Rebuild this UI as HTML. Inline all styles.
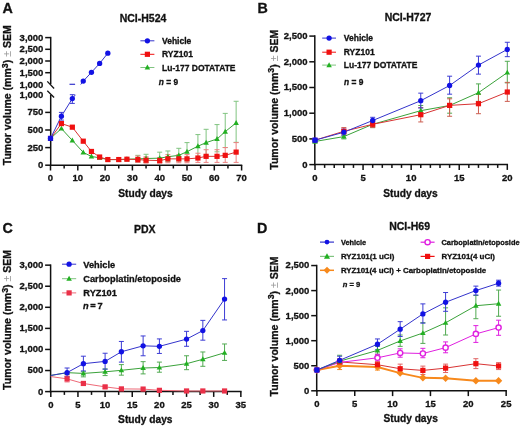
<!DOCTYPE html>
<html><head><meta charset="utf-8"><title>Tumor volume</title>
<style>html,body{margin:0;padding:0;background:#fff;width:520px;height:427px;overflow:hidden}</style>
</head><body>
<svg width="520" height="427" viewBox="0 0 520 427" style="display:block;will-change:transform;font-family:'Liberation Sans',sans-serif">
<style>text{stroke:#111;stroke-width:0.3px;paint-order:stroke}</style>
<rect width="520" height="427" fill="#fff"/>
<text x="2.4" y="13.2" font-size="14.3" text-anchor="start" font-weight="bold" fill="#111" >A</text>
<text x="143" y="21.5" font-size="10.5" text-anchor="middle" font-weight="bold" fill="#111" >NCI-H524</text>
<text transform="translate(11.2,95.2) rotate(-90)" font-size="10.55" text-anchor="middle" font-weight="bold" fill="#111">Tumor volume (mm<tspan font-size="8.9" dy="-3.3">3</tspan><tspan dy="3.3">)</tspan> <tspan font-weight="normal" fill="#999" stroke="none">±</tspan> SEM</text>
<line x1="50.7" y1="94.8" x2="50.7" y2="165.95" stroke="#111" stroke-width="1.5"/>
<line x1="50.7" y1="36.85" x2="50.7" y2="84.2" stroke="#111" stroke-width="1.5"/>
<line x1="47.3" y1="81.4" x2="54.1" y2="88.5" stroke="#111" stroke-width="1.3"/>
<line x1="47.3" y1="90.8" x2="54.1" y2="97.5" stroke="#111" stroke-width="1.3"/>
<line x1="49.95" y1="165.2" x2="242.25" y2="165.2" stroke="#111" stroke-width="1.5"/>
<line x1="45.2" y1="165.2" x2="50.7" y2="165.2" stroke="#111" stroke-width="1.5"/>
<text x="43.4" y="168.1" font-size="9.5" text-anchor="end" font-weight="bold" fill="#111" >0</text>
<line x1="45.2" y1="147.6" x2="50.7" y2="147.6" stroke="#111" stroke-width="1.5"/>
<text x="43.4" y="150.5" font-size="9.5" text-anchor="end" font-weight="bold" fill="#111" >250</text>
<line x1="45.2" y1="130" x2="50.7" y2="130" stroke="#111" stroke-width="1.5"/>
<text x="43.4" y="132.9" font-size="9.5" text-anchor="end" font-weight="bold" fill="#111" >500</text>
<line x1="45.2" y1="112.4" x2="50.7" y2="112.4" stroke="#111" stroke-width="1.5"/>
<text x="43.4" y="115.3" font-size="9.5" text-anchor="end" font-weight="bold" fill="#111" >750</text>
<line x1="45.2" y1="72.7" x2="50.7" y2="72.7" stroke="#111" stroke-width="1.5"/>
<text x="43.4" y="75.6" font-size="9.5" text-anchor="end" font-weight="bold" fill="#111" >1,500</text>
<line x1="45.2" y1="61" x2="50.7" y2="61" stroke="#111" stroke-width="1.5"/>
<text x="43.4" y="63.9" font-size="9.5" text-anchor="end" font-weight="bold" fill="#111" >2,000</text>
<line x1="45.2" y1="49.3" x2="50.7" y2="49.3" stroke="#111" stroke-width="1.5"/>
<text x="43.4" y="52.2" font-size="9.5" text-anchor="end" font-weight="bold" fill="#111" >2,500</text>
<line x1="45.2" y1="37.6" x2="50.7" y2="37.6" stroke="#111" stroke-width="1.5"/>
<text x="43.4" y="40.5" font-size="9.5" text-anchor="end" font-weight="bold" fill="#111" >3,000</text>
<text x="43.4" y="97.5" font-size="9.5" text-anchor="end" font-weight="bold" fill="#111" >1,000</text>
<text x="43.4" y="87.7" font-size="9.5" text-anchor="end" font-weight="bold" fill="#111" >1,000</text>
<line x1="50.5" y1="165.2" x2="50.5" y2="170.5" stroke="#111" stroke-width="1.5"/>
<text x="50.5" y="181.2" font-size="9.5" text-anchor="middle" font-weight="bold" fill="#111" >0</text>
<line x1="77.8" y1="165.2" x2="77.8" y2="170.5" stroke="#111" stroke-width="1.5"/>
<text x="77.8" y="181.2" font-size="9.5" text-anchor="middle" font-weight="bold" fill="#111" >10</text>
<line x1="105.1" y1="165.2" x2="105.1" y2="170.5" stroke="#111" stroke-width="1.5"/>
<text x="105.1" y="181.2" font-size="9.5" text-anchor="middle" font-weight="bold" fill="#111" >20</text>
<line x1="132.4" y1="165.2" x2="132.4" y2="170.5" stroke="#111" stroke-width="1.5"/>
<text x="132.4" y="181.2" font-size="9.5" text-anchor="middle" font-weight="bold" fill="#111" >30</text>
<line x1="159.7" y1="165.2" x2="159.7" y2="170.5" stroke="#111" stroke-width="1.5"/>
<text x="159.7" y="181.2" font-size="9.5" text-anchor="middle" font-weight="bold" fill="#111" >40</text>
<line x1="187" y1="165.2" x2="187" y2="170.5" stroke="#111" stroke-width="1.5"/>
<text x="187" y="181.2" font-size="9.5" text-anchor="middle" font-weight="bold" fill="#111" >50</text>
<line x1="214.3" y1="165.2" x2="214.3" y2="170.5" stroke="#111" stroke-width="1.5"/>
<text x="214.3" y="181.2" font-size="9.5" text-anchor="middle" font-weight="bold" fill="#111" >60</text>
<line x1="241.6" y1="165.2" x2="241.6" y2="170.5" stroke="#111" stroke-width="1.5"/>
<text x="241.6" y="181.2" font-size="9.5" text-anchor="middle" font-weight="bold" fill="#111" >70</text>
<line x1="64.15" y1="165.2" x2="64.15" y2="168.5" stroke="#111" stroke-width="1.5"/>
<line x1="91.45" y1="165.2" x2="91.45" y2="168.5" stroke="#111" stroke-width="1.5"/>
<line x1="118.75" y1="165.2" x2="118.75" y2="168.5" stroke="#111" stroke-width="1.5"/>
<line x1="146.05" y1="165.2" x2="146.05" y2="168.5" stroke="#111" stroke-width="1.5"/>
<line x1="173.35" y1="165.2" x2="173.35" y2="168.5" stroke="#111" stroke-width="1.5"/>
<line x1="200.65" y1="165.2" x2="200.65" y2="168.5" stroke="#111" stroke-width="1.5"/>
<line x1="227.95" y1="165.2" x2="227.95" y2="168.5" stroke="#111" stroke-width="1.5"/>
<text x="145.5" y="196.7" font-size="10.2" text-anchor="middle" font-weight="bold" fill="#111" >Study days</text>
<line x1="137.86" y1="155.34" x2="137.86" y2="162.38" stroke="#80c480" stroke-width="1"/>
<line x1="135.36" y1="155.34" x2="140.36" y2="155.34" stroke="#80c480" stroke-width="1"/>
<line x1="135.36" y1="162.38" x2="140.36" y2="162.38" stroke="#80c480" stroke-width="1"/>
<line x1="146.05" y1="154.29" x2="146.05" y2="162.38" stroke="#80c480" stroke-width="1"/>
<line x1="143.55" y1="154.29" x2="148.55" y2="154.29" stroke="#80c480" stroke-width="1"/>
<line x1="143.55" y1="162.38" x2="148.55" y2="162.38" stroke="#80c480" stroke-width="1"/>
<line x1="159.7" y1="152.18" x2="159.7" y2="162.38" stroke="#80c480" stroke-width="1"/>
<line x1="157.2" y1="152.18" x2="162.2" y2="152.18" stroke="#80c480" stroke-width="1"/>
<line x1="157.2" y1="162.38" x2="162.2" y2="162.38" stroke="#80c480" stroke-width="1"/>
<line x1="167.89" y1="150.98" x2="167.89" y2="161.68" stroke="#80c480" stroke-width="1"/>
<line x1="165.39" y1="150.98" x2="170.39" y2="150.98" stroke="#80c480" stroke-width="1"/>
<line x1="165.39" y1="161.68" x2="170.39" y2="161.68" stroke="#80c480" stroke-width="1"/>
<line x1="178.81" y1="148.3" x2="178.81" y2="160.98" stroke="#80c480" stroke-width="1"/>
<line x1="176.31" y1="148.3" x2="181.31" y2="148.3" stroke="#80c480" stroke-width="1"/>
<line x1="176.31" y1="160.98" x2="181.31" y2="160.98" stroke="#80c480" stroke-width="1"/>
<line x1="187" y1="142.6" x2="187" y2="160.98" stroke="#80c480" stroke-width="1"/>
<line x1="184.5" y1="142.6" x2="189.5" y2="142.6" stroke="#80c480" stroke-width="1"/>
<line x1="184.5" y1="160.98" x2="189.5" y2="160.98" stroke="#80c480" stroke-width="1"/>
<line x1="197.92" y1="134.58" x2="197.92" y2="158.16" stroke="#80c480" stroke-width="1"/>
<line x1="195.42" y1="134.58" x2="200.42" y2="134.58" stroke="#80c480" stroke-width="1"/>
<line x1="195.42" y1="158.16" x2="200.42" y2="158.16" stroke="#80c480" stroke-width="1"/>
<line x1="206.11" y1="129.3" x2="206.11" y2="155.34" stroke="#80c480" stroke-width="1"/>
<line x1="203.61" y1="129.3" x2="208.61" y2="129.3" stroke="#80c480" stroke-width="1"/>
<line x1="203.61" y1="155.34" x2="208.61" y2="155.34" stroke="#80c480" stroke-width="1"/>
<line x1="217.03" y1="124.58" x2="217.03" y2="151.82" stroke="#80c480" stroke-width="1"/>
<line x1="214.53" y1="124.58" x2="219.53" y2="124.58" stroke="#80c480" stroke-width="1"/>
<line x1="214.53" y1="151.82" x2="219.53" y2="151.82" stroke="#80c480" stroke-width="1"/>
<line x1="225.22" y1="113.39" x2="225.22" y2="147.6" stroke="#80c480" stroke-width="1"/>
<line x1="222.72" y1="113.39" x2="227.72" y2="113.39" stroke="#80c480" stroke-width="1"/>
<line x1="222.72" y1="147.6" x2="227.72" y2="147.6" stroke="#80c480" stroke-width="1"/>
<line x1="236.14" y1="101.28" x2="236.14" y2="142.32" stroke="#80c480" stroke-width="1"/>
<line x1="233.64" y1="101.28" x2="238.64" y2="101.28" stroke="#80c480" stroke-width="1"/>
<line x1="233.64" y1="142.32" x2="238.64" y2="142.32" stroke="#80c480" stroke-width="1"/>
<line x1="137.86" y1="156.05" x2="137.86" y2="162.38" stroke="#ec8080" stroke-width="1"/>
<line x1="135.36" y1="156.05" x2="140.36" y2="156.05" stroke="#ec8080" stroke-width="1"/>
<line x1="135.36" y1="162.38" x2="140.36" y2="162.38" stroke="#ec8080" stroke-width="1"/>
<line x1="146.05" y1="156.75" x2="146.05" y2="163.09" stroke="#ec8080" stroke-width="1"/>
<line x1="143.55" y1="156.75" x2="148.55" y2="156.75" stroke="#ec8080" stroke-width="1"/>
<line x1="143.55" y1="163.09" x2="148.55" y2="163.09" stroke="#ec8080" stroke-width="1"/>
<line x1="159.7" y1="157.46" x2="159.7" y2="163.09" stroke="#ec8080" stroke-width="1"/>
<line x1="157.2" y1="157.46" x2="162.2" y2="157.46" stroke="#ec8080" stroke-width="1"/>
<line x1="157.2" y1="163.09" x2="162.2" y2="163.09" stroke="#ec8080" stroke-width="1"/>
<line x1="167.89" y1="154.64" x2="167.89" y2="162.74" stroke="#ec8080" stroke-width="1"/>
<line x1="165.39" y1="154.64" x2="170.39" y2="154.64" stroke="#ec8080" stroke-width="1"/>
<line x1="165.39" y1="162.74" x2="170.39" y2="162.74" stroke="#ec8080" stroke-width="1"/>
<line x1="178.81" y1="154.64" x2="178.81" y2="162.74" stroke="#ec8080" stroke-width="1"/>
<line x1="176.31" y1="154.64" x2="181.31" y2="154.64" stroke="#ec8080" stroke-width="1"/>
<line x1="176.31" y1="162.74" x2="181.31" y2="162.74" stroke="#ec8080" stroke-width="1"/>
<line x1="187" y1="154.64" x2="187" y2="162.74" stroke="#ec8080" stroke-width="1"/>
<line x1="184.5" y1="154.64" x2="189.5" y2="154.64" stroke="#ec8080" stroke-width="1"/>
<line x1="184.5" y1="162.74" x2="189.5" y2="162.74" stroke="#ec8080" stroke-width="1"/>
<line x1="197.92" y1="153.23" x2="197.92" y2="162.38" stroke="#ec8080" stroke-width="1"/>
<line x1="195.42" y1="153.23" x2="200.42" y2="153.23" stroke="#ec8080" stroke-width="1"/>
<line x1="195.42" y1="162.38" x2="200.42" y2="162.38" stroke="#ec8080" stroke-width="1"/>
<line x1="206.11" y1="149.71" x2="206.11" y2="162.38" stroke="#ec8080" stroke-width="1"/>
<line x1="203.61" y1="149.71" x2="208.61" y2="149.71" stroke="#ec8080" stroke-width="1"/>
<line x1="203.61" y1="162.38" x2="208.61" y2="162.38" stroke="#ec8080" stroke-width="1"/>
<line x1="217.03" y1="149.71" x2="217.03" y2="162.38" stroke="#ec8080" stroke-width="1"/>
<line x1="214.53" y1="149.71" x2="219.53" y2="149.71" stroke="#ec8080" stroke-width="1"/>
<line x1="214.53" y1="162.38" x2="219.53" y2="162.38" stroke="#ec8080" stroke-width="1"/>
<line x1="225.22" y1="147.53" x2="225.22" y2="162.38" stroke="#ec8080" stroke-width="1"/>
<line x1="222.72" y1="147.53" x2="227.72" y2="147.53" stroke="#ec8080" stroke-width="1"/>
<line x1="222.72" y1="162.38" x2="227.72" y2="162.38" stroke="#ec8080" stroke-width="1"/>
<line x1="236.14" y1="142.6" x2="236.14" y2="162.38" stroke="#ec8080" stroke-width="1"/>
<line x1="233.64" y1="142.6" x2="238.64" y2="142.6" stroke="#ec8080" stroke-width="1"/>
<line x1="233.64" y1="162.38" x2="238.64" y2="162.38" stroke="#ec8080" stroke-width="1"/>
<polyline points="50.5,138.38 61.42,128.59 72.34,140.42 83.26,152.39 91.45,156.47 99.64,157.81 107.83,159.57 118.75,159.57 126.94,159.22 137.86,158.86 146.05,158.51 159.7,158.16 167.89,156.75 178.81,155.34 187,151.68 197.92,146.19 206.11,142.6 217.03,139.01 225.22,131.62 236.14,122.89" fill="none" stroke="#3aa23a" stroke-width="1"/>
<polyline points="50.5,138.38 61.42,123.59 72.34,127.18 83.26,141.19 91.45,151.47 99.64,157.03 107.83,159.57 118.75,159.57 126.94,159.22 137.86,159.57 146.05,160.2 159.7,160.62 167.89,158.86 178.81,158.86 187,158.86 197.92,158.02 206.11,156.33 217.03,156.33 225.22,155.34 236.14,152.11" fill="none" stroke="#d83434" stroke-width="1"/>
<polyline points="50.5,138.38 61.42,116.2 72.34,98.6 75.4,94.8" fill="none" stroke="#3434cc" stroke-width="1"/>
<polyline points="80.7,84.5 83.26,81.12 91.45,72.35 99.64,63.46 107.83,53.16" fill="none" stroke="#3434cc" stroke-width="1"/>
<line x1="69.5" y1="84.3" x2="75.1" y2="84.3" stroke="#3434cc" stroke-width="1.2"/>
<line x1="61.42" y1="112.4" x2="61.42" y2="120.1" stroke="#3c3cd4" stroke-width="1"/>
<line x1="58.92" y1="112.4" x2="63.92" y2="112.4" stroke="#3c3cd4" stroke-width="1"/>
<line x1="58.92" y1="120.1" x2="63.92" y2="120.1" stroke="#3c3cd4" stroke-width="1"/>
<line x1="72.34" y1="94.7" x2="72.34" y2="103.4" stroke="#3c3cd4" stroke-width="1"/>
<line x1="69.84" y1="94.7" x2="74.84" y2="94.7" stroke="#3c3cd4" stroke-width="1"/>
<line x1="69.84" y1="103.4" x2="74.84" y2="103.4" stroke="#3c3cd4" stroke-width="1"/>
<polygon points="50.5,135.48 53.26,140.41 47.74,140.41" fill="#22b022"/>
<polygon points="61.42,125.69 64.17,130.62 58.66,130.62" fill="#22b022"/>
<polygon points="72.34,137.52 75.09,142.45 69.59,142.45" fill="#22b022"/>
<polygon points="83.26,149.49 86.01,154.42 80.5,154.42" fill="#22b022"/>
<polygon points="91.45,153.57 94.2,158.5 88.7,158.5" fill="#22b022"/>
<polygon points="99.64,154.91 102.39,159.84 96.89,159.84" fill="#22b022"/>
<polygon points="107.83,156.67 110.58,161.6 105.08,161.6" fill="#22b022"/>
<polygon points="118.75,156.67 121.5,161.6 116,161.6" fill="#22b022"/>
<polygon points="126.94,156.32 129.69,161.25 124.19,161.25" fill="#22b022"/>
<polygon points="137.86,155.96 140.62,160.89 135.11,160.89" fill="#22b022"/>
<polygon points="146.05,155.61 148.81,160.54 143.3,160.54" fill="#22b022"/>
<polygon points="159.7,155.26 162.45,160.19 156.94,160.19" fill="#22b022"/>
<polygon points="167.89,153.85 170.64,158.78 165.13,158.78" fill="#22b022"/>
<polygon points="178.81,152.44 181.56,157.37 176.06,157.37" fill="#22b022"/>
<polygon points="187,148.78 189.75,153.71 184.25,153.71" fill="#22b022"/>
<polygon points="197.92,143.29 200.67,148.22 195.16,148.22" fill="#22b022"/>
<polygon points="206.11,139.7 208.86,144.63 203.35,144.63" fill="#22b022"/>
<polygon points="217.03,136.11 219.78,141.04 214.28,141.04" fill="#22b022"/>
<polygon points="225.22,128.72 227.97,133.65 222.47,133.65" fill="#22b022"/>
<polygon points="236.14,119.99 238.89,124.92 233.38,124.92" fill="#22b022"/>
<rect x="47.9" y="135.78" width="5.2" height="5.2" fill="#3a18c8"/>
<rect x="58.82" y="120.99" width="5.2" height="5.2" fill="#f01010"/>
<rect x="69.74" y="124.58" width="5.2" height="5.2" fill="#f01010"/>
<rect x="80.66" y="138.59" width="5.2" height="5.2" fill="#f01010"/>
<rect x="88.85" y="148.87" width="5.2" height="5.2" fill="#f01010"/>
<rect x="97.04" y="154.43" width="5.2" height="5.2" fill="#f01010"/>
<rect x="105.23" y="156.97" width="5.2" height="5.2" fill="#f01010"/>
<rect x="116.15" y="156.97" width="5.2" height="5.2" fill="#f01010"/>
<rect x="124.34" y="156.62" width="5.2" height="5.2" fill="#f01010"/>
<rect x="135.26" y="156.97" width="5.2" height="5.2" fill="#f01010"/>
<rect x="143.45" y="157.6" width="5.2" height="5.2" fill="#f01010"/>
<rect x="157.1" y="158.02" width="5.2" height="5.2" fill="#f01010"/>
<rect x="165.29" y="156.26" width="5.2" height="5.2" fill="#f01010"/>
<rect x="176.21" y="156.26" width="5.2" height="5.2" fill="#f01010"/>
<rect x="184.4" y="156.26" width="5.2" height="5.2" fill="#f01010"/>
<rect x="195.32" y="155.42" width="5.2" height="5.2" fill="#f01010"/>
<rect x="203.51" y="153.73" width="5.2" height="5.2" fill="#f01010"/>
<rect x="214.43" y="153.73" width="5.2" height="5.2" fill="#f01010"/>
<rect x="222.62" y="152.74" width="5.2" height="5.2" fill="#f01010"/>
<rect x="233.54" y="149.51" width="5.2" height="5.2" fill="#f01010"/>
<circle cx="50.5" cy="138.38" r="2.65" fill="#1212e4"/>
<circle cx="61.42" cy="116.2" r="2.65" fill="#1212e4"/>
<circle cx="72.34" cy="98.6" r="2.65" fill="#1212e4"/>
<circle cx="83.26" cy="81.12" r="2.65" fill="#1212e4"/>
<circle cx="91.45" cy="72.35" r="2.65" fill="#1212e4"/>
<circle cx="99.64" cy="63.46" r="2.65" fill="#1212e4"/>
<circle cx="107.83" cy="53.16" r="2.65" fill="#1212e4"/>
<line x1="140.4" y1="40.8" x2="154.4" y2="40.8" stroke="#3434cc" stroke-width="1"/>
<circle cx="147.4" cy="40.8" r="2.65" fill="#1212e4"/>
<text x="162" y="43.8" font-size="8.5" text-anchor="start" font-weight="bold" fill="#111" >Vehicle</text>
<line x1="140.4" y1="54.3" x2="154.4" y2="54.3" stroke="#f01010" stroke-width="1"/>
<rect x="144.8" y="51.7" width="5.2" height="5.2" fill="#f01010"/>
<text x="162" y="57.3" font-size="8.5" text-anchor="start" font-weight="bold" fill="#111" >RYZ101</text>
<line x1="140.4" y1="67.5" x2="154.4" y2="67.5" stroke="#80c480" stroke-width="1"/>
<polygon points="147.4,64.6 150.16,69.53 144.65,69.53" fill="#22b022"/>
<text x="162" y="70.5" font-size="8.5" text-anchor="start" font-weight="bold" fill="#111" >Lu-177 DOTATATE</text>
<text x="158.8" y="84.5" font-size="8.4" font-weight="bold" fill="#111"><tspan font-style="italic">n</tspan> = 9</text>
<text x="257.6" y="12.6" font-size="14.3" text-anchor="start" font-weight="bold" fill="#111" >B</text>
<text x="408" y="21.3" font-size="10.5" text-anchor="middle" font-weight="bold" fill="#111" >NCI-H727</text>
<text transform="translate(277.6,99.7) rotate(-90)" font-size="10.55" text-anchor="middle" font-weight="bold" fill="#111">Tumor volume (mm<tspan font-size="8.9" dy="-3.3">3</tspan><tspan dy="3.3">)</tspan> <tspan font-weight="normal" fill="#999" stroke="none">±</tspan> SEM</text>
<line x1="314.8" y1="35.25" x2="314.8" y2="165.35" stroke="#111" stroke-width="1.5"/>
<line x1="314.05" y1="164.6" x2="508.05" y2="164.6" stroke="#111" stroke-width="1.5"/>
<line x1="309.3" y1="164.6" x2="314.8" y2="164.6" stroke="#111" stroke-width="1.5"/>
<text x="307.5" y="167.5" font-size="9.5" text-anchor="end" font-weight="bold" fill="#111" >0</text>
<line x1="309.3" y1="138.9" x2="314.8" y2="138.9" stroke="#111" stroke-width="1.5"/>
<text x="307.5" y="141.8" font-size="9.5" text-anchor="end" font-weight="bold" fill="#111" >500</text>
<line x1="309.3" y1="113.2" x2="314.8" y2="113.2" stroke="#111" stroke-width="1.5"/>
<text x="307.5" y="116.1" font-size="9.5" text-anchor="end" font-weight="bold" fill="#111" >1,000</text>
<line x1="309.3" y1="87.5" x2="314.8" y2="87.5" stroke="#111" stroke-width="1.5"/>
<text x="307.5" y="90.4" font-size="9.5" text-anchor="end" font-weight="bold" fill="#111" >1,500</text>
<line x1="309.3" y1="61.8" x2="314.8" y2="61.8" stroke="#111" stroke-width="1.5"/>
<text x="307.5" y="64.7" font-size="9.5" text-anchor="end" font-weight="bold" fill="#111" >2,000</text>
<line x1="309.3" y1="36.1" x2="314.8" y2="36.1" stroke="#111" stroke-width="1.5"/>
<text x="307.5" y="39" font-size="9.5" text-anchor="end" font-weight="bold" fill="#111" >2,500</text>
<line x1="315" y1="164.6" x2="315" y2="169.9" stroke="#111" stroke-width="1.5"/>
<text x="315" y="180.6" font-size="9.5" text-anchor="middle" font-weight="bold" fill="#111" >0</text>
<line x1="363.07" y1="164.6" x2="363.07" y2="169.9" stroke="#111" stroke-width="1.5"/>
<text x="363.07" y="180.6" font-size="9.5" text-anchor="middle" font-weight="bold" fill="#111" >5</text>
<line x1="411.15" y1="164.6" x2="411.15" y2="169.9" stroke="#111" stroke-width="1.5"/>
<text x="411.15" y="180.6" font-size="9.5" text-anchor="middle" font-weight="bold" fill="#111" >10</text>
<line x1="459.23" y1="164.6" x2="459.23" y2="169.9" stroke="#111" stroke-width="1.5"/>
<text x="459.23" y="180.6" font-size="9.5" text-anchor="middle" font-weight="bold" fill="#111" >15</text>
<line x1="507.3" y1="164.6" x2="507.3" y2="169.9" stroke="#111" stroke-width="1.5"/>
<text x="507.3" y="180.6" font-size="9.5" text-anchor="middle" font-weight="bold" fill="#111" >20</text>
<line x1="324.62" y1="164.6" x2="324.62" y2="167.9" stroke="#111" stroke-width="1.5"/>
<line x1="334.23" y1="164.6" x2="334.23" y2="167.9" stroke="#111" stroke-width="1.5"/>
<line x1="343.85" y1="164.6" x2="343.85" y2="167.9" stroke="#111" stroke-width="1.5"/>
<line x1="353.46" y1="164.6" x2="353.46" y2="167.9" stroke="#111" stroke-width="1.5"/>
<line x1="372.69" y1="164.6" x2="372.69" y2="167.9" stroke="#111" stroke-width="1.5"/>
<line x1="382.31" y1="164.6" x2="382.31" y2="167.9" stroke="#111" stroke-width="1.5"/>
<line x1="391.92" y1="164.6" x2="391.92" y2="167.9" stroke="#111" stroke-width="1.5"/>
<line x1="401.53" y1="164.6" x2="401.53" y2="167.9" stroke="#111" stroke-width="1.5"/>
<line x1="420.76" y1="164.6" x2="420.76" y2="167.9" stroke="#111" stroke-width="1.5"/>
<line x1="430.38" y1="164.6" x2="430.38" y2="167.9" stroke="#111" stroke-width="1.5"/>
<line x1="440" y1="164.6" x2="440" y2="167.9" stroke="#111" stroke-width="1.5"/>
<line x1="449.61" y1="164.6" x2="449.61" y2="167.9" stroke="#111" stroke-width="1.5"/>
<line x1="468.84" y1="164.6" x2="468.84" y2="167.9" stroke="#111" stroke-width="1.5"/>
<line x1="478.46" y1="164.6" x2="478.46" y2="167.9" stroke="#111" stroke-width="1.5"/>
<line x1="488.07" y1="164.6" x2="488.07" y2="167.9" stroke="#111" stroke-width="1.5"/>
<line x1="497.69" y1="164.6" x2="497.69" y2="167.9" stroke="#111" stroke-width="1.5"/>
<text x="410.5" y="196.7" font-size="10.2" text-anchor="middle" font-weight="bold" fill="#111" >Study days</text>
<line x1="315" y1="139.41" x2="315" y2="143.01" stroke="#52aa52" stroke-width="1"/>
<line x1="312.5" y1="139.41" x2="317.5" y2="139.41" stroke="#52aa52" stroke-width="1"/>
<line x1="312.5" y1="143.01" x2="317.5" y2="143.01" stroke="#52aa52" stroke-width="1"/>
<line x1="343.85" y1="133.76" x2="343.85" y2="138.9" stroke="#52aa52" stroke-width="1"/>
<line x1="341.35" y1="133.76" x2="346.35" y2="133.76" stroke="#52aa52" stroke-width="1"/>
<line x1="341.35" y1="138.9" x2="346.35" y2="138.9" stroke="#52aa52" stroke-width="1"/>
<line x1="372.69" y1="120.91" x2="372.69" y2="127.59" stroke="#52aa52" stroke-width="1"/>
<line x1="370.19" y1="120.91" x2="375.19" y2="120.91" stroke="#52aa52" stroke-width="1"/>
<line x1="370.19" y1="127.59" x2="375.19" y2="127.59" stroke="#52aa52" stroke-width="1"/>
<line x1="420.76" y1="105.49" x2="420.76" y2="115.77" stroke="#52aa52" stroke-width="1"/>
<line x1="418.26" y1="105.49" x2="423.26" y2="105.49" stroke="#52aa52" stroke-width="1"/>
<line x1="418.26" y1="115.77" x2="423.26" y2="115.77" stroke="#52aa52" stroke-width="1"/>
<line x1="449.61" y1="97.78" x2="449.61" y2="113.2" stroke="#52aa52" stroke-width="1"/>
<line x1="447.11" y1="97.78" x2="452.11" y2="97.78" stroke="#52aa52" stroke-width="1"/>
<line x1="447.11" y1="113.2" x2="452.11" y2="113.2" stroke="#52aa52" stroke-width="1"/>
<line x1="478.46" y1="83.9" x2="478.46" y2="101.38" stroke="#52aa52" stroke-width="1"/>
<line x1="475.96" y1="83.9" x2="480.96" y2="83.9" stroke="#52aa52" stroke-width="1"/>
<line x1="475.96" y1="101.38" x2="480.96" y2="101.38" stroke="#52aa52" stroke-width="1"/>
<line x1="507.3" y1="61.29" x2="507.3" y2="82.87" stroke="#52aa52" stroke-width="1"/>
<line x1="504.8" y1="61.29" x2="509.8" y2="61.29" stroke="#52aa52" stroke-width="1"/>
<line x1="504.8" y1="82.87" x2="509.8" y2="82.87" stroke="#52aa52" stroke-width="1"/>
<line x1="315" y1="138.39" x2="315" y2="141.98" stroke="#cc5e50" stroke-width="1"/>
<line x1="312.5" y1="138.39" x2="317.5" y2="138.39" stroke="#cc5e50" stroke-width="1"/>
<line x1="312.5" y1="141.98" x2="317.5" y2="141.98" stroke="#cc5e50" stroke-width="1"/>
<line x1="343.85" y1="127.59" x2="343.85" y2="134.79" stroke="#cc5e50" stroke-width="1"/>
<line x1="341.35" y1="127.59" x2="346.35" y2="127.59" stroke="#cc5e50" stroke-width="1"/>
<line x1="341.35" y1="134.79" x2="346.35" y2="134.79" stroke="#cc5e50" stroke-width="1"/>
<line x1="372.69" y1="120.91" x2="372.69" y2="127.59" stroke="#cc5e50" stroke-width="1"/>
<line x1="370.19" y1="120.91" x2="375.19" y2="120.91" stroke="#cc5e50" stroke-width="1"/>
<line x1="370.19" y1="127.59" x2="375.19" y2="127.59" stroke="#cc5e50" stroke-width="1"/>
<line x1="420.76" y1="107.55" x2="420.76" y2="121.94" stroke="#cc5e50" stroke-width="1"/>
<line x1="418.26" y1="107.55" x2="423.26" y2="107.55" stroke="#cc5e50" stroke-width="1"/>
<line x1="418.26" y1="121.94" x2="423.26" y2="121.94" stroke="#cc5e50" stroke-width="1"/>
<line x1="449.61" y1="98.81" x2="449.61" y2="116.28" stroke="#cc5e50" stroke-width="1"/>
<line x1="447.11" y1="98.81" x2="452.11" y2="98.81" stroke="#cc5e50" stroke-width="1"/>
<line x1="447.11" y1="116.28" x2="452.11" y2="116.28" stroke="#cc5e50" stroke-width="1"/>
<line x1="478.46" y1="94.18" x2="478.46" y2="113.71" stroke="#cc5e50" stroke-width="1"/>
<line x1="475.96" y1="94.18" x2="480.96" y2="94.18" stroke="#cc5e50" stroke-width="1"/>
<line x1="475.96" y1="113.71" x2="480.96" y2="113.71" stroke="#cc5e50" stroke-width="1"/>
<line x1="507.3" y1="82.36" x2="507.3" y2="101.38" stroke="#cc5e50" stroke-width="1"/>
<line x1="504.8" y1="82.36" x2="509.8" y2="82.36" stroke="#cc5e50" stroke-width="1"/>
<line x1="504.8" y1="101.38" x2="509.8" y2="101.38" stroke="#cc5e50" stroke-width="1"/>
<line x1="315" y1="138.39" x2="315" y2="141.98" stroke="#3c3cd4" stroke-width="1"/>
<line x1="312.5" y1="138.39" x2="317.5" y2="138.39" stroke="#3c3cd4" stroke-width="1"/>
<line x1="312.5" y1="141.98" x2="317.5" y2="141.98" stroke="#3c3cd4" stroke-width="1"/>
<line x1="343.85" y1="129.13" x2="343.85" y2="135.3" stroke="#3c3cd4" stroke-width="1"/>
<line x1="341.35" y1="129.13" x2="346.35" y2="129.13" stroke="#3c3cd4" stroke-width="1"/>
<line x1="341.35" y1="135.3" x2="346.35" y2="135.3" stroke="#3c3cd4" stroke-width="1"/>
<line x1="372.69" y1="117.31" x2="372.69" y2="123.48" stroke="#3c3cd4" stroke-width="1"/>
<line x1="370.19" y1="117.31" x2="375.19" y2="117.31" stroke="#3c3cd4" stroke-width="1"/>
<line x1="370.19" y1="123.48" x2="375.19" y2="123.48" stroke="#3c3cd4" stroke-width="1"/>
<line x1="420.76" y1="93.15" x2="420.76" y2="108.06" stroke="#3c3cd4" stroke-width="1"/>
<line x1="418.26" y1="93.15" x2="423.26" y2="93.15" stroke="#3c3cd4" stroke-width="1"/>
<line x1="418.26" y1="108.06" x2="423.26" y2="108.06" stroke="#3c3cd4" stroke-width="1"/>
<line x1="449.61" y1="76.19" x2="449.61" y2="94.18" stroke="#3c3cd4" stroke-width="1"/>
<line x1="447.11" y1="76.19" x2="452.11" y2="76.19" stroke="#3c3cd4" stroke-width="1"/>
<line x1="447.11" y1="94.18" x2="452.11" y2="94.18" stroke="#3c3cd4" stroke-width="1"/>
<line x1="478.46" y1="56.15" x2="478.46" y2="74.14" stroke="#3c3cd4" stroke-width="1"/>
<line x1="475.96" y1="56.15" x2="480.96" y2="56.15" stroke="#3c3cd4" stroke-width="1"/>
<line x1="475.96" y1="74.14" x2="480.96" y2="74.14" stroke="#3c3cd4" stroke-width="1"/>
<line x1="507.3" y1="42.27" x2="507.3" y2="56.66" stroke="#3c3cd4" stroke-width="1"/>
<line x1="504.8" y1="42.27" x2="509.8" y2="42.27" stroke="#3c3cd4" stroke-width="1"/>
<line x1="504.8" y1="56.66" x2="509.8" y2="56.66" stroke="#3c3cd4" stroke-width="1"/>
<polyline points="315,141.47 343.85,136.59 372.69,124.3 420.76,110.68 449.61,105.49 478.46,92.69 507.3,72.59" fill="none" stroke="#3aa23a" stroke-width="1"/>
<polyline points="315,140.19 343.85,131.29 372.69,124.3 420.76,114.69 449.61,105.39 478.46,103.69 507.3,92.02" fill="none" stroke="#d83434" stroke-width="1"/>
<polyline points="315,140.19 343.85,132.22 372.69,120.5 420.76,100.71 449.61,85.5 478.46,65.09 507.3,49.41" fill="none" stroke="#3434cc" stroke-width="1"/>
<polygon points="315,138.57 317.75,143.5 312.25,143.5" fill="#22b022"/>
<polygon points="343.85,133.69 346.6,138.62 341.09,138.62" fill="#22b022"/>
<polygon points="372.69,121.4 375.44,126.33 369.94,126.33" fill="#22b022"/>
<polygon points="420.76,107.78 423.52,112.71 418.01,112.71" fill="#22b022"/>
<polygon points="449.61,102.59 452.37,107.52 446.86,107.52" fill="#22b022"/>
<polygon points="478.46,89.79 481.21,94.72 475.7,94.72" fill="#22b022"/>
<polygon points="507.3,69.69 510.06,74.62 504.55,74.62" fill="#22b022"/>
<rect x="312.4" y="137.59" width="5.2" height="5.2" fill="#3a18c8"/>
<rect x="341.25" y="128.69" width="5.2" height="5.2" fill="#f01010"/>
<rect x="370.09" y="121.7" width="5.2" height="5.2" fill="#f01010"/>
<rect x="418.16" y="112.09" width="5.2" height="5.2" fill="#f01010"/>
<rect x="447.01" y="102.79" width="5.2" height="5.2" fill="#f01010"/>
<rect x="475.86" y="101.09" width="5.2" height="5.2" fill="#f01010"/>
<rect x="504.7" y="89.42" width="5.2" height="5.2" fill="#f01010"/>
<circle cx="315" cy="140.19" r="2.65" fill="#1212e4"/>
<circle cx="343.85" cy="132.22" r="2.65" fill="#1212e4"/>
<circle cx="372.69" cy="120.5" r="2.65" fill="#1212e4"/>
<circle cx="420.76" cy="100.71" r="2.65" fill="#1212e4"/>
<circle cx="449.61" cy="85.5" r="2.65" fill="#1212e4"/>
<circle cx="478.46" cy="65.09" r="2.65" fill="#1212e4"/>
<circle cx="507.3" cy="49.41" r="2.65" fill="#1212e4"/>
<line x1="322.2" y1="38.1" x2="336" y2="38.1" stroke="#3434cc" stroke-width="1"/>
<circle cx="329.1" cy="38.1" r="2.65" fill="#1212e4"/>
<text x="343.8" y="41.1" font-size="8.5" text-anchor="start" font-weight="bold" fill="#111" >Vehicle</text>
<line x1="322.2" y1="52.2" x2="336" y2="52.2" stroke="#f01010" stroke-width="1"/>
<rect x="326.5" y="49.6" width="5.2" height="5.2" fill="#f01010"/>
<text x="343.8" y="55.2" font-size="8.5" text-anchor="start" font-weight="bold" fill="#111" >RYZ101</text>
<line x1="322.2" y1="65.1" x2="336" y2="65.1" stroke="#80c480" stroke-width="1"/>
<polygon points="329.1,62.2 331.86,67.13 326.35,67.13" fill="#22b022"/>
<text x="343.8" y="68.1" font-size="8.5" text-anchor="start" font-weight="bold" fill="#111" >Lu-177 DOTATATE</text>
<text x="344" y="85.3" font-size="8.4" font-weight="bold" fill="#111"><tspan font-style="italic">n</tspan> = 9</text>
<text x="2.4" y="233.4" font-size="14.3" text-anchor="start" font-weight="bold" fill="#111" >C</text>
<text x="144.8" y="233" font-size="10.5" text-anchor="middle" font-weight="bold" fill="#111" >PDX</text>
<text transform="translate(10.8,319.9) rotate(-90)" font-size="10.55" text-anchor="middle" font-weight="bold" fill="#111">Tumor volume (mm<tspan font-size="8.9" dy="-3.3">3</tspan><tspan dy="3.3">)</tspan> <tspan font-weight="normal" fill="#999" stroke="none">±</tspan> SEM</text>
<line x1="50.6" y1="264.4" x2="50.6" y2="392.35" stroke="#111" stroke-width="1.5"/>
<line x1="49.85" y1="391.6" x2="241.6" y2="391.6" stroke="#111" stroke-width="1.5"/>
<line x1="45.1" y1="391.6" x2="50.6" y2="391.6" stroke="#111" stroke-width="1.5"/>
<text x="43.3" y="394.5" font-size="9.5" text-anchor="end" font-weight="bold" fill="#111" >0</text>
<line x1="45.1" y1="370.53" x2="50.6" y2="370.53" stroke="#111" stroke-width="1.5"/>
<text x="43.3" y="373.43" font-size="9.5" text-anchor="end" font-weight="bold" fill="#111" >500</text>
<line x1="45.1" y1="349.45" x2="50.6" y2="349.45" stroke="#111" stroke-width="1.5"/>
<text x="43.3" y="352.35" font-size="9.5" text-anchor="end" font-weight="bold" fill="#111" >1,000</text>
<line x1="45.1" y1="328.38" x2="50.6" y2="328.38" stroke="#111" stroke-width="1.5"/>
<text x="43.3" y="331.27" font-size="9.5" text-anchor="end" font-weight="bold" fill="#111" >1,500</text>
<line x1="45.1" y1="307.3" x2="50.6" y2="307.3" stroke="#111" stroke-width="1.5"/>
<text x="43.3" y="310.2" font-size="9.5" text-anchor="end" font-weight="bold" fill="#111" >2,000</text>
<line x1="45.1" y1="286.23" x2="50.6" y2="286.23" stroke="#111" stroke-width="1.5"/>
<text x="43.3" y="289.12" font-size="9.5" text-anchor="end" font-weight="bold" fill="#111" >2,500</text>
<line x1="45.1" y1="265.15" x2="50.6" y2="265.15" stroke="#111" stroke-width="1.5"/>
<text x="43.3" y="268.05" font-size="9.5" text-anchor="end" font-weight="bold" fill="#111" >3,000</text>
<line x1="50.8" y1="391.6" x2="50.8" y2="396.9" stroke="#111" stroke-width="1.5"/>
<text x="50.8" y="407.6" font-size="9.5" text-anchor="middle" font-weight="bold" fill="#111" >0</text>
<line x1="77.95" y1="391.6" x2="77.95" y2="396.9" stroke="#111" stroke-width="1.5"/>
<text x="77.95" y="407.6" font-size="9.5" text-anchor="middle" font-weight="bold" fill="#111" >5</text>
<line x1="105.1" y1="391.6" x2="105.1" y2="396.9" stroke="#111" stroke-width="1.5"/>
<text x="105.1" y="407.6" font-size="9.5" text-anchor="middle" font-weight="bold" fill="#111" >10</text>
<line x1="132.25" y1="391.6" x2="132.25" y2="396.9" stroke="#111" stroke-width="1.5"/>
<text x="132.25" y="407.6" font-size="9.5" text-anchor="middle" font-weight="bold" fill="#111" >15</text>
<line x1="159.4" y1="391.6" x2="159.4" y2="396.9" stroke="#111" stroke-width="1.5"/>
<text x="159.4" y="407.6" font-size="9.5" text-anchor="middle" font-weight="bold" fill="#111" >20</text>
<line x1="186.55" y1="391.6" x2="186.55" y2="396.9" stroke="#111" stroke-width="1.5"/>
<text x="186.55" y="407.6" font-size="9.5" text-anchor="middle" font-weight="bold" fill="#111" >25</text>
<line x1="213.7" y1="391.6" x2="213.7" y2="396.9" stroke="#111" stroke-width="1.5"/>
<text x="213.7" y="407.6" font-size="9.5" text-anchor="middle" font-weight="bold" fill="#111" >30</text>
<line x1="240.85" y1="391.6" x2="240.85" y2="396.9" stroke="#111" stroke-width="1.5"/>
<text x="240.85" y="407.6" font-size="9.5" text-anchor="middle" font-weight="bold" fill="#111" >35</text>
<line x1="64.38" y1="391.6" x2="64.38" y2="394.9" stroke="#111" stroke-width="1.5"/>
<line x1="91.52" y1="391.6" x2="91.52" y2="394.9" stroke="#111" stroke-width="1.5"/>
<line x1="118.67" y1="391.6" x2="118.67" y2="394.9" stroke="#111" stroke-width="1.5"/>
<line x1="145.82" y1="391.6" x2="145.82" y2="394.9" stroke="#111" stroke-width="1.5"/>
<line x1="172.97" y1="391.6" x2="172.97" y2="394.9" stroke="#111" stroke-width="1.5"/>
<line x1="200.12" y1="391.6" x2="200.12" y2="394.9" stroke="#111" stroke-width="1.5"/>
<line x1="227.27" y1="391.6" x2="227.27" y2="394.9" stroke="#111" stroke-width="1.5"/>
<text x="145.3" y="423.2" font-size="10.2" text-anchor="middle" font-weight="bold" fill="#111" >Study days</text>
<line x1="83.38" y1="371.79" x2="83.38" y2="376.85" stroke="#52aa52" stroke-width="1"/>
<line x1="80.88" y1="371.79" x2="85.88" y2="371.79" stroke="#52aa52" stroke-width="1"/>
<line x1="80.88" y1="376.85" x2="85.88" y2="376.85" stroke="#52aa52" stroke-width="1"/>
<line x1="105.1" y1="368.84" x2="105.1" y2="375.58" stroke="#52aa52" stroke-width="1"/>
<line x1="102.6" y1="368.84" x2="107.6" y2="368.84" stroke="#52aa52" stroke-width="1"/>
<line x1="102.6" y1="375.58" x2="107.6" y2="375.58" stroke="#52aa52" stroke-width="1"/>
<line x1="121.39" y1="364.62" x2="121.39" y2="375.16" stroke="#52aa52" stroke-width="1"/>
<line x1="118.89" y1="364.62" x2="123.89" y2="364.62" stroke="#52aa52" stroke-width="1"/>
<line x1="118.89" y1="375.16" x2="123.89" y2="375.16" stroke="#52aa52" stroke-width="1"/>
<line x1="143.11" y1="361.67" x2="143.11" y2="373.9" stroke="#52aa52" stroke-width="1"/>
<line x1="140.61" y1="361.67" x2="145.61" y2="361.67" stroke="#52aa52" stroke-width="1"/>
<line x1="140.61" y1="373.9" x2="145.61" y2="373.9" stroke="#52aa52" stroke-width="1"/>
<line x1="159.4" y1="362.1" x2="159.4" y2="372.21" stroke="#52aa52" stroke-width="1"/>
<line x1="156.9" y1="362.1" x2="161.9" y2="362.1" stroke="#52aa52" stroke-width="1"/>
<line x1="156.9" y1="372.21" x2="161.9" y2="372.21" stroke="#52aa52" stroke-width="1"/>
<line x1="186.55" y1="355.77" x2="186.55" y2="369.68" stroke="#52aa52" stroke-width="1"/>
<line x1="184.05" y1="355.77" x2="189.05" y2="355.77" stroke="#52aa52" stroke-width="1"/>
<line x1="184.05" y1="369.68" x2="189.05" y2="369.68" stroke="#52aa52" stroke-width="1"/>
<line x1="202.84" y1="351.98" x2="202.84" y2="366.31" stroke="#52aa52" stroke-width="1"/>
<line x1="200.34" y1="351.98" x2="205.34" y2="351.98" stroke="#52aa52" stroke-width="1"/>
<line x1="200.34" y1="366.31" x2="205.34" y2="366.31" stroke="#52aa52" stroke-width="1"/>
<line x1="224.56" y1="343.97" x2="224.56" y2="360.41" stroke="#52aa52" stroke-width="1"/>
<line x1="222.06" y1="343.97" x2="227.06" y2="343.97" stroke="#52aa52" stroke-width="1"/>
<line x1="222.06" y1="360.41" x2="227.06" y2="360.41" stroke="#52aa52" stroke-width="1"/>
<line x1="67.09" y1="376" x2="67.09" y2="381.91" stroke="#ee6a78" stroke-width="1"/>
<line x1="64.59" y1="376" x2="69.59" y2="376" stroke="#ee6a78" stroke-width="1"/>
<line x1="64.59" y1="381.91" x2="69.59" y2="381.91" stroke="#ee6a78" stroke-width="1"/>
<line x1="83.38" y1="381.48" x2="83.38" y2="385.28" stroke="#ee6a78" stroke-width="1"/>
<line x1="80.88" y1="381.48" x2="85.88" y2="381.48" stroke="#ee6a78" stroke-width="1"/>
<line x1="80.88" y1="385.28" x2="85.88" y2="385.28" stroke="#ee6a78" stroke-width="1"/>
<line x1="105.1" y1="385.7" x2="105.1" y2="388.23" stroke="#ee6a78" stroke-width="1"/>
<line x1="102.6" y1="385.7" x2="107.6" y2="385.7" stroke="#ee6a78" stroke-width="1"/>
<line x1="102.6" y1="388.23" x2="107.6" y2="388.23" stroke="#ee6a78" stroke-width="1"/>
<line x1="67.09" y1="368" x2="67.09" y2="376.85" stroke="#3c3cd4" stroke-width="1"/>
<line x1="64.59" y1="368" x2="69.59" y2="368" stroke="#3c3cd4" stroke-width="1"/>
<line x1="64.59" y1="376.85" x2="69.59" y2="376.85" stroke="#3c3cd4" stroke-width="1"/>
<line x1="83.38" y1="356.19" x2="83.38" y2="370.95" stroke="#3c3cd4" stroke-width="1"/>
<line x1="80.88" y1="356.19" x2="85.88" y2="356.19" stroke="#3c3cd4" stroke-width="1"/>
<line x1="80.88" y1="370.95" x2="85.88" y2="370.95" stroke="#3c3cd4" stroke-width="1"/>
<line x1="105.1" y1="353.24" x2="105.1" y2="369.26" stroke="#3c3cd4" stroke-width="1"/>
<line x1="102.6" y1="353.24" x2="107.6" y2="353.24" stroke="#3c3cd4" stroke-width="1"/>
<line x1="102.6" y1="369.26" x2="107.6" y2="369.26" stroke="#3c3cd4" stroke-width="1"/>
<line x1="121.39" y1="341.44" x2="121.39" y2="362.1" stroke="#3c3cd4" stroke-width="1"/>
<line x1="118.89" y1="341.44" x2="123.89" y2="341.44" stroke="#3c3cd4" stroke-width="1"/>
<line x1="118.89" y1="362.1" x2="123.89" y2="362.1" stroke="#3c3cd4" stroke-width="1"/>
<line x1="143.11" y1="335.96" x2="143.11" y2="355.77" stroke="#3c3cd4" stroke-width="1"/>
<line x1="140.61" y1="335.96" x2="145.61" y2="335.96" stroke="#3c3cd4" stroke-width="1"/>
<line x1="140.61" y1="355.77" x2="145.61" y2="355.77" stroke="#3c3cd4" stroke-width="1"/>
<line x1="159.4" y1="338.91" x2="159.4" y2="353.45" stroke="#3c3cd4" stroke-width="1"/>
<line x1="156.9" y1="338.91" x2="161.9" y2="338.91" stroke="#3c3cd4" stroke-width="1"/>
<line x1="156.9" y1="353.45" x2="161.9" y2="353.45" stroke="#3c3cd4" stroke-width="1"/>
<line x1="186.55" y1="331.33" x2="186.55" y2="346.29" stroke="#3c3cd4" stroke-width="1"/>
<line x1="184.05" y1="331.33" x2="189.05" y2="331.33" stroke="#3c3cd4" stroke-width="1"/>
<line x1="184.05" y1="346.29" x2="189.05" y2="346.29" stroke="#3c3cd4" stroke-width="1"/>
<line x1="202.84" y1="320.37" x2="202.84" y2="340.18" stroke="#3c3cd4" stroke-width="1"/>
<line x1="200.34" y1="320.37" x2="205.34" y2="320.37" stroke="#3c3cd4" stroke-width="1"/>
<line x1="200.34" y1="340.18" x2="205.34" y2="340.18" stroke="#3c3cd4" stroke-width="1"/>
<line x1="224.56" y1="278.64" x2="224.56" y2="319.95" stroke="#3c3cd4" stroke-width="1"/>
<line x1="222.06" y1="278.64" x2="227.06" y2="278.64" stroke="#3c3cd4" stroke-width="1"/>
<line x1="222.06" y1="319.95" x2="227.06" y2="319.95" stroke="#3c3cd4" stroke-width="1"/>
<polyline points="50.8,375.46 67.09,372.63 83.38,373.43 105.1,371.83 121.39,370.31 143.11,368 159.4,367.53 186.55,363.7 202.84,359.27 224.56,352.78" fill="none" stroke="#3aa23a" stroke-width="1"/>
<polyline points="50.8,376.55 67.09,378.87 83.38,383.47 105.1,386.88 121.39,388.9 143.11,389.07 159.4,390.34 186.55,390.97 202.84,390.97 224.56,390.97" fill="none" stroke="#ee6a78" stroke-width="1"/>
<polyline points="50.8,375.46 67.09,372.63 83.38,363.7 105.1,361.38 121.39,351.77 143.11,345.83 159.4,346.33 186.55,339.12 202.84,330.57 224.56,299.08" fill="none" stroke="#3434cc" stroke-width="1"/>
<polygon points="67.09,369.73 69.84,374.66 64.34,374.66" fill="#22b022"/>
<polygon points="83.38,370.53 86.13,375.46 80.62,375.46" fill="#22b022"/>
<polygon points="105.1,368.93 107.85,373.86 102.34,373.86" fill="#22b022"/>
<polygon points="121.39,367.41 124.14,372.34 118.64,372.34" fill="#22b022"/>
<polygon points="143.11,365.1 145.87,370.03 140.36,370.03" fill="#22b022"/>
<polygon points="159.4,364.63 162.15,369.56 156.64,369.56" fill="#22b022"/>
<polygon points="186.55,360.8 189.31,365.73 183.8,365.73" fill="#22b022"/>
<polygon points="202.84,356.37 205.59,361.3 200.08,361.3" fill="#22b022"/>
<polygon points="224.56,349.88 227.31,354.81 221.81,354.81" fill="#22b022"/>
<rect x="64.49" y="376.27" width="5.2" height="5.2" fill="#ea3048"/>
<rect x="80.78" y="380.87" width="5.2" height="5.2" fill="#ea3048"/>
<rect x="102.5" y="384.28" width="5.2" height="5.2" fill="#ea3048"/>
<rect x="118.79" y="386.3" width="5.2" height="5.2" fill="#ea3048"/>
<rect x="140.51" y="386.47" width="5.2" height="5.2" fill="#ea3048"/>
<rect x="156.8" y="387.74" width="5.2" height="5.2" fill="#ea3048"/>
<rect x="183.95" y="388.37" width="5.2" height="5.2" fill="#ea3048"/>
<rect x="200.24" y="388.37" width="5.2" height="5.2" fill="#ea3048"/>
<rect x="221.96" y="388.37" width="5.2" height="5.2" fill="#ea3048"/>
<circle cx="67.09" cy="372.63" r="2.65" fill="#1212e4"/>
<circle cx="83.38" cy="363.7" r="2.65" fill="#1212e4"/>
<circle cx="105.1" cy="361.38" r="2.65" fill="#1212e4"/>
<circle cx="121.39" cy="351.77" r="2.65" fill="#1212e4"/>
<circle cx="143.11" cy="345.83" r="2.65" fill="#1212e4"/>
<circle cx="159.4" cy="346.33" r="2.65" fill="#1212e4"/>
<circle cx="186.55" cy="339.12" r="2.65" fill="#1212e4"/>
<circle cx="202.84" cy="330.57" r="2.65" fill="#1212e4"/>
<circle cx="224.56" cy="299.08" r="2.65" fill="#1212e4"/>
<line x1="62" y1="264.2" x2="76.2" y2="264.2" stroke="#3434cc" stroke-width="1"/>
<circle cx="69.1" cy="264.2" r="2.65" fill="#1212e4"/>
<text x="83.3" y="267.5" font-size="9.25" text-anchor="start" font-weight="bold" fill="#111" >Vehicle</text>
<line x1="62" y1="278.7" x2="76.2" y2="278.7" stroke="#80c480" stroke-width="1"/>
<polygon points="69.1,275.8 71.85,280.73 66.34,280.73" fill="#22b022"/>
<text x="83.3" y="282" font-size="9.25" text-anchor="start" font-weight="bold" fill="#111" >Carboplatin/etoposide</text>
<line x1="62" y1="292.9" x2="76.2" y2="292.9" stroke="#ee6a78" stroke-width="1"/>
<rect x="66.5" y="290.3" width="5.2" height="5.2" fill="#ea3048"/>
<text x="83.3" y="296.2" font-size="9.25" text-anchor="start" font-weight="bold" fill="#111" >RYZ101</text>
<text x="83" y="309.2" font-size="9.3" font-weight="bold" fill="#111" textLength="19.6" lengthAdjust="spacing"><tspan font-style="italic">n</tspan> = 7</text>
<text x="257.1" y="233.4" font-size="14.3" text-anchor="start" font-weight="bold" fill="#111" >D</text>
<text x="409.6" y="229.8" font-size="10.5" text-anchor="middle" font-weight="bold" fill="#111" >NCI-H69</text>
<text transform="translate(277.5,326.4) rotate(-90)" font-size="10.55" text-anchor="middle" font-weight="bold" fill="#111">Tumor volume (mm<tspan font-size="8.9" dy="-3.3">3</tspan><tspan dy="3.3">)</tspan> <tspan font-weight="normal" fill="#999" stroke="none">±</tspan> SEM</text>
<line x1="316.7" y1="264.8" x2="316.7" y2="391.55" stroke="#111" stroke-width="1.5"/>
<line x1="315.95" y1="390.8" x2="506.9" y2="390.8" stroke="#111" stroke-width="1.5"/>
<line x1="311.2" y1="390.8" x2="316.7" y2="390.8" stroke="#111" stroke-width="1.5"/>
<text x="309.4" y="393.7" font-size="9.5" text-anchor="end" font-weight="bold" fill="#111" >0</text>
<line x1="311.2" y1="365.75" x2="316.7" y2="365.75" stroke="#111" stroke-width="1.5"/>
<text x="309.4" y="368.65" font-size="9.5" text-anchor="end" font-weight="bold" fill="#111" >500</text>
<line x1="311.2" y1="340.7" x2="316.7" y2="340.7" stroke="#111" stroke-width="1.5"/>
<text x="309.4" y="343.6" font-size="9.5" text-anchor="end" font-weight="bold" fill="#111" >1,000</text>
<line x1="311.2" y1="315.65" x2="316.7" y2="315.65" stroke="#111" stroke-width="1.5"/>
<text x="309.4" y="318.55" font-size="9.5" text-anchor="end" font-weight="bold" fill="#111" >1,500</text>
<line x1="311.2" y1="290.6" x2="316.7" y2="290.6" stroke="#111" stroke-width="1.5"/>
<text x="309.4" y="293.5" font-size="9.5" text-anchor="end" font-weight="bold" fill="#111" >2,000</text>
<line x1="311.2" y1="265.55" x2="316.7" y2="265.55" stroke="#111" stroke-width="1.5"/>
<text x="309.4" y="268.45" font-size="9.5" text-anchor="end" font-weight="bold" fill="#111" >2,500</text>
<line x1="316.9" y1="390.8" x2="316.9" y2="396.1" stroke="#111" stroke-width="1.5"/>
<text x="316.9" y="406.8" font-size="9.5" text-anchor="middle" font-weight="bold" fill="#111" >0</text>
<line x1="354.75" y1="390.8" x2="354.75" y2="396.1" stroke="#111" stroke-width="1.5"/>
<text x="354.75" y="406.8" font-size="9.5" text-anchor="middle" font-weight="bold" fill="#111" >5</text>
<line x1="392.6" y1="390.8" x2="392.6" y2="396.1" stroke="#111" stroke-width="1.5"/>
<text x="392.6" y="406.8" font-size="9.5" text-anchor="middle" font-weight="bold" fill="#111" >10</text>
<line x1="430.45" y1="390.8" x2="430.45" y2="396.1" stroke="#111" stroke-width="1.5"/>
<text x="430.45" y="406.8" font-size="9.5" text-anchor="middle" font-weight="bold" fill="#111" >15</text>
<line x1="468.3" y1="390.8" x2="468.3" y2="396.1" stroke="#111" stroke-width="1.5"/>
<text x="468.3" y="406.8" font-size="9.5" text-anchor="middle" font-weight="bold" fill="#111" >20</text>
<line x1="506.15" y1="390.8" x2="506.15" y2="396.1" stroke="#111" stroke-width="1.5"/>
<text x="506.15" y="406.8" font-size="9.5" text-anchor="middle" font-weight="bold" fill="#111" >25</text>
<text x="410.7" y="421.8" font-size="10.2" text-anchor="middle" font-weight="bold" fill="#111" >Study days</text>
<line x1="339.61" y1="355.25" x2="339.61" y2="365.12" stroke="#52aa52" stroke-width="1"/>
<line x1="337.11" y1="355.25" x2="342.11" y2="355.25" stroke="#52aa52" stroke-width="1"/>
<line x1="337.11" y1="365.12" x2="342.11" y2="365.12" stroke="#52aa52" stroke-width="1"/>
<line x1="377.46" y1="346.36" x2="377.46" y2="354.26" stroke="#52aa52" stroke-width="1"/>
<line x1="374.96" y1="346.36" x2="379.96" y2="346.36" stroke="#52aa52" stroke-width="1"/>
<line x1="374.96" y1="354.26" x2="379.96" y2="354.26" stroke="#52aa52" stroke-width="1"/>
<line x1="400.17" y1="335" x2="400.17" y2="346.36" stroke="#52aa52" stroke-width="1"/>
<line x1="397.67" y1="335" x2="402.67" y2="335" stroke="#52aa52" stroke-width="1"/>
<line x1="397.67" y1="346.36" x2="402.67" y2="346.36" stroke="#52aa52" stroke-width="1"/>
<line x1="422.88" y1="322.66" x2="422.88" y2="343.4" stroke="#52aa52" stroke-width="1"/>
<line x1="420.38" y1="322.66" x2="425.38" y2="322.66" stroke="#52aa52" stroke-width="1"/>
<line x1="420.38" y1="343.4" x2="425.38" y2="343.4" stroke="#52aa52" stroke-width="1"/>
<line x1="445.59" y1="307.84" x2="445.59" y2="335" stroke="#52aa52" stroke-width="1"/>
<line x1="443.09" y1="307.84" x2="448.09" y2="307.84" stroke="#52aa52" stroke-width="1"/>
<line x1="443.09" y1="335" x2="448.09" y2="335" stroke="#52aa52" stroke-width="1"/>
<line x1="475.87" y1="295.5" x2="475.87" y2="318.71" stroke="#52aa52" stroke-width="1"/>
<line x1="473.37" y1="295.5" x2="478.37" y2="295.5" stroke="#52aa52" stroke-width="1"/>
<line x1="473.37" y1="318.71" x2="478.37" y2="318.71" stroke="#52aa52" stroke-width="1"/>
<line x1="498.58" y1="290.06" x2="498.58" y2="316.24" stroke="#52aa52" stroke-width="1"/>
<line x1="496.08" y1="290.06" x2="501.08" y2="290.06" stroke="#52aa52" stroke-width="1"/>
<line x1="496.08" y1="316.24" x2="501.08" y2="316.24" stroke="#52aa52" stroke-width="1"/>
<line x1="339.61" y1="359.2" x2="339.61" y2="365.12" stroke="#e020e0" stroke-width="1"/>
<line x1="337.11" y1="359.2" x2="342.11" y2="359.2" stroke="#e020e0" stroke-width="1"/>
<line x1="337.11" y1="365.12" x2="342.11" y2="365.12" stroke="#e020e0" stroke-width="1"/>
<line x1="377.46" y1="354.26" x2="377.46" y2="361.17" stroke="#e020e0" stroke-width="1"/>
<line x1="374.96" y1="354.26" x2="379.96" y2="354.26" stroke="#e020e0" stroke-width="1"/>
<line x1="374.96" y1="361.17" x2="379.96" y2="361.17" stroke="#e020e0" stroke-width="1"/>
<line x1="400.17" y1="348.83" x2="400.17" y2="357.22" stroke="#e020e0" stroke-width="1"/>
<line x1="397.67" y1="348.83" x2="402.67" y2="348.83" stroke="#e020e0" stroke-width="1"/>
<line x1="397.67" y1="357.22" x2="402.67" y2="357.22" stroke="#e020e0" stroke-width="1"/>
<line x1="422.88" y1="348.33" x2="422.88" y2="357.72" stroke="#e020e0" stroke-width="1"/>
<line x1="420.38" y1="348.33" x2="425.38" y2="348.33" stroke="#e020e0" stroke-width="1"/>
<line x1="420.38" y1="357.72" x2="425.38" y2="357.72" stroke="#e020e0" stroke-width="1"/>
<line x1="445.59" y1="341.91" x2="445.59" y2="352.78" stroke="#e020e0" stroke-width="1"/>
<line x1="443.09" y1="341.91" x2="448.09" y2="341.91" stroke="#e020e0" stroke-width="1"/>
<line x1="443.09" y1="352.78" x2="448.09" y2="352.78" stroke="#e020e0" stroke-width="1"/>
<line x1="475.87" y1="325.62" x2="475.87" y2="342.41" stroke="#e020e0" stroke-width="1"/>
<line x1="473.37" y1="325.62" x2="478.37" y2="325.62" stroke="#e020e0" stroke-width="1"/>
<line x1="473.37" y1="342.41" x2="478.37" y2="342.41" stroke="#e020e0" stroke-width="1"/>
<line x1="498.58" y1="320.19" x2="498.58" y2="335.3" stroke="#e020e0" stroke-width="1"/>
<line x1="496.08" y1="320.19" x2="501.08" y2="320.19" stroke="#e020e0" stroke-width="1"/>
<line x1="496.08" y1="335.3" x2="501.08" y2="335.3" stroke="#e020e0" stroke-width="1"/>
<line x1="339.61" y1="358.7" x2="339.61" y2="365.12" stroke="#e06464" stroke-width="1"/>
<line x1="337.11" y1="358.7" x2="342.11" y2="358.7" stroke="#e06464" stroke-width="1"/>
<line x1="337.11" y1="365.12" x2="342.11" y2="365.12" stroke="#e06464" stroke-width="1"/>
<line x1="377.46" y1="361.67" x2="377.46" y2="367.59" stroke="#e06464" stroke-width="1"/>
<line x1="374.96" y1="361.67" x2="379.96" y2="361.67" stroke="#e06464" stroke-width="1"/>
<line x1="374.96" y1="367.59" x2="379.96" y2="367.59" stroke="#e06464" stroke-width="1"/>
<line x1="400.17" y1="364.13" x2="400.17" y2="373.02" stroke="#e06464" stroke-width="1"/>
<line x1="397.67" y1="364.13" x2="402.67" y2="364.13" stroke="#e06464" stroke-width="1"/>
<line x1="397.67" y1="373.02" x2="402.67" y2="373.02" stroke="#e06464" stroke-width="1"/>
<line x1="422.88" y1="366.11" x2="422.88" y2="374.5" stroke="#e06464" stroke-width="1"/>
<line x1="420.38" y1="366.11" x2="425.38" y2="366.11" stroke="#e06464" stroke-width="1"/>
<line x1="420.38" y1="374.5" x2="425.38" y2="374.5" stroke="#e06464" stroke-width="1"/>
<line x1="445.59" y1="364.13" x2="445.59" y2="372.53" stroke="#e06464" stroke-width="1"/>
<line x1="443.09" y1="364.13" x2="448.09" y2="364.13" stroke="#e06464" stroke-width="1"/>
<line x1="443.09" y1="372.53" x2="448.09" y2="372.53" stroke="#e06464" stroke-width="1"/>
<line x1="475.87" y1="358.7" x2="475.87" y2="368.58" stroke="#e06464" stroke-width="1"/>
<line x1="473.37" y1="358.7" x2="478.37" y2="358.7" stroke="#e06464" stroke-width="1"/>
<line x1="473.37" y1="368.58" x2="478.37" y2="368.58" stroke="#e06464" stroke-width="1"/>
<line x1="498.58" y1="362.65" x2="498.58" y2="369.57" stroke="#e06464" stroke-width="1"/>
<line x1="496.08" y1="362.65" x2="501.08" y2="362.65" stroke="#e06464" stroke-width="1"/>
<line x1="496.08" y1="369.57" x2="501.08" y2="369.57" stroke="#e06464" stroke-width="1"/>
<line x1="339.61" y1="362.16" x2="339.61" y2="369.57" stroke="#f7891c" stroke-width="1"/>
<line x1="337.11" y1="362.16" x2="342.11" y2="362.16" stroke="#f7891c" stroke-width="1"/>
<line x1="337.11" y1="369.57" x2="342.11" y2="369.57" stroke="#f7891c" stroke-width="1"/>
<line x1="377.46" y1="364.13" x2="377.46" y2="370.06" stroke="#f7891c" stroke-width="1"/>
<line x1="374.96" y1="364.13" x2="379.96" y2="364.13" stroke="#f7891c" stroke-width="1"/>
<line x1="374.96" y1="370.06" x2="379.96" y2="370.06" stroke="#f7891c" stroke-width="1"/>
<line x1="339.61" y1="356.23" x2="339.61" y2="364.13" stroke="#3c3cd4" stroke-width="1"/>
<line x1="337.11" y1="356.23" x2="342.11" y2="356.23" stroke="#3c3cd4" stroke-width="1"/>
<line x1="337.11" y1="364.13" x2="342.11" y2="364.13" stroke="#3c3cd4" stroke-width="1"/>
<line x1="377.46" y1="338.95" x2="377.46" y2="349.81" stroke="#3c3cd4" stroke-width="1"/>
<line x1="374.96" y1="338.95" x2="379.96" y2="338.95" stroke="#3c3cd4" stroke-width="1"/>
<line x1="374.96" y1="349.81" x2="379.96" y2="349.81" stroke="#3c3cd4" stroke-width="1"/>
<line x1="400.17" y1="321.67" x2="400.17" y2="336.48" stroke="#3c3cd4" stroke-width="1"/>
<line x1="397.67" y1="321.67" x2="402.67" y2="321.67" stroke="#3c3cd4" stroke-width="1"/>
<line x1="397.67" y1="336.48" x2="402.67" y2="336.48" stroke="#3c3cd4" stroke-width="1"/>
<line x1="422.88" y1="303.89" x2="422.88" y2="323.15" stroke="#3c3cd4" stroke-width="1"/>
<line x1="420.38" y1="303.89" x2="425.38" y2="303.89" stroke="#3c3cd4" stroke-width="1"/>
<line x1="420.38" y1="323.15" x2="425.38" y2="323.15" stroke="#3c3cd4" stroke-width="1"/>
<line x1="445.59" y1="292.53" x2="445.59" y2="311.3" stroke="#3c3cd4" stroke-width="1"/>
<line x1="443.09" y1="292.53" x2="448.09" y2="292.53" stroke="#3c3cd4" stroke-width="1"/>
<line x1="443.09" y1="311.3" x2="448.09" y2="311.3" stroke="#3c3cd4" stroke-width="1"/>
<line x1="475.87" y1="286.11" x2="475.87" y2="295" stroke="#3c3cd4" stroke-width="1"/>
<line x1="473.37" y1="286.11" x2="478.37" y2="286.11" stroke="#3c3cd4" stroke-width="1"/>
<line x1="473.37" y1="295" x2="478.37" y2="295" stroke="#3c3cd4" stroke-width="1"/>
<line x1="498.58" y1="280.19" x2="498.58" y2="286.11" stroke="#3c3cd4" stroke-width="1"/>
<line x1="496.08" y1="280.19" x2="501.08" y2="280.19" stroke="#3c3cd4" stroke-width="1"/>
<line x1="496.08" y1="286.11" x2="501.08" y2="286.11" stroke="#3c3cd4" stroke-width="1"/>
<polyline points="316.9,370.01 339.61,365.81 377.46,367 400.17,373.12 422.88,377.81 445.59,378.31 475.87,380.73 498.58,380.73" fill="none" stroke="#f7891c" stroke-width="1.9"/>
<polyline points="316.9,370.01 339.61,361.91 377.46,364.73 400.17,368.73 422.88,370.41 445.59,368.13 475.87,363.69 498.58,366.01" fill="none" stroke="#d83434" stroke-width="1"/>
<polyline points="316.9,370.01 339.61,362.41 377.46,357.81 400.17,352.93 422.88,353.52 445.59,347.64 475.87,333.91 498.58,327.59" fill="none" stroke="#e020e0" stroke-width="1"/>
<polyline points="316.9,370.01 339.61,361.17 377.46,350.41 400.17,340.93 422.88,333.03 445.59,322.8 475.87,305.72 498.58,303.74" fill="none" stroke="#3aa23a" stroke-width="1"/>
<polyline points="316.9,370.01 339.61,360.33 377.46,344.23 400.17,329.22 422.88,313.92 445.59,302.26 475.87,290.56 498.58,283.25" fill="none" stroke="#3434cc" stroke-width="1"/>
<circle cx="316.9" cy="370.01" r="2.6" fill="#fff" stroke="#e020e0" stroke-width="1.4"/>
<circle cx="339.61" cy="362.41" r="2.6" fill="#fff" stroke="#e020e0" stroke-width="1.4"/>
<circle cx="377.46" cy="357.81" r="2.6" fill="#fff" stroke="#e020e0" stroke-width="1.4"/>
<circle cx="400.17" cy="352.93" r="2.6" fill="#fff" stroke="#e020e0" stroke-width="1.4"/>
<circle cx="422.88" cy="353.52" r="2.6" fill="#fff" stroke="#e020e0" stroke-width="1.4"/>
<circle cx="445.59" cy="347.64" r="2.6" fill="#fff" stroke="#e020e0" stroke-width="1.4"/>
<circle cx="475.87" cy="333.91" r="2.6" fill="#fff" stroke="#e020e0" stroke-width="1.4"/>
<circle cx="498.58" cy="327.59" r="2.6" fill="#fff" stroke="#e020e0" stroke-width="1.4"/>
<polygon points="316.9,366.31 320.6,370.01 316.9,373.71 313.2,370.01" fill="#f7891c"/>
<polygon points="339.61,362.11 343.31,365.81 339.61,369.51 335.91,365.81" fill="#f7891c"/>
<polygon points="377.46,363.3 381.16,367 377.46,370.7 373.76,367" fill="#f7891c"/>
<polygon points="400.17,369.42 403.87,373.12 400.17,376.82 396.47,373.12" fill="#f7891c"/>
<polygon points="422.88,374.11 426.58,377.81 422.88,381.51 419.18,377.81" fill="#f7891c"/>
<polygon points="445.59,374.61 449.29,378.31 445.59,382.01 441.89,378.31" fill="#f7891c"/>
<polygon points="475.87,377.03 479.57,380.73 475.87,384.43 472.17,380.73" fill="#f7891c"/>
<polygon points="498.58,377.03 502.28,380.73 498.58,384.43 494.88,380.73" fill="#f7891c"/>
<rect x="314.3" y="367.41" width="5.2" height="5.2" fill="#3a18c8"/>
<rect x="337.01" y="359.31" width="5.2" height="5.2" fill="#f01010"/>
<rect x="374.86" y="362.13" width="5.2" height="5.2" fill="#f01010"/>
<rect x="397.57" y="366.13" width="5.2" height="5.2" fill="#f01010"/>
<rect x="420.28" y="367.81" width="5.2" height="5.2" fill="#f01010"/>
<rect x="442.99" y="365.53" width="5.2" height="5.2" fill="#f01010"/>
<rect x="473.27" y="361.09" width="5.2" height="5.2" fill="#f01010"/>
<rect x="495.98" y="363.41" width="5.2" height="5.2" fill="#f01010"/>
<polygon points="316.9,367.11 319.65,372.04 314.14,372.04" fill="#22b022"/>
<polygon points="339.61,358.27 342.36,363.2 336.85,363.2" fill="#22b022"/>
<polygon points="377.46,347.51 380.21,352.44 374.7,352.44" fill="#22b022"/>
<polygon points="400.17,338.03 402.92,342.96 397.41,342.96" fill="#22b022"/>
<polygon points="422.88,330.13 425.63,335.06 420.12,335.06" fill="#22b022"/>
<polygon points="445.59,319.9 448.34,324.83 442.83,324.83" fill="#22b022"/>
<polygon points="475.87,302.82 478.62,307.75 473.12,307.75" fill="#22b022"/>
<polygon points="498.58,300.84 501.33,305.77 495.82,305.77" fill="#22b022"/>
<circle cx="316.9" cy="370.01" r="2.65" fill="#1212e4"/>
<circle cx="339.61" cy="360.33" r="2.65" fill="#1212e4"/>
<circle cx="377.46" cy="344.23" r="2.65" fill="#1212e4"/>
<circle cx="400.17" cy="329.22" r="2.65" fill="#1212e4"/>
<circle cx="422.88" cy="313.92" r="2.65" fill="#1212e4"/>
<circle cx="445.59" cy="302.26" r="2.65" fill="#1212e4"/>
<circle cx="475.87" cy="290.56" r="2.65" fill="#1212e4"/>
<circle cx="498.58" cy="283.25" r="2.65" fill="#1212e4"/>
<line x1="320" y1="242.1" x2="334" y2="242.1" stroke="#3434cc" stroke-width="1.2"/>
<circle cx="327" cy="242.1" r="2.38" fill="#1212e4"/>
<text x="340.9" y="244.85" font-size="7.35" text-anchor="start" font-weight="bold" fill="#111" >Vehicle</text>
<line x1="320" y1="256.4" x2="334" y2="256.4" stroke="#80c480" stroke-width="1.2"/>
<polygon points="327,253.21 330.03,258.63 323.97,258.63" fill="#22b022"/>
<text x="340.9" y="259.15" font-size="7.95" text-anchor="start" font-weight="bold" fill="#111" >RYZ101(1 uCi)</text>
<line x1="320" y1="270.3" x2="334" y2="270.3" stroke="#f7891c" stroke-width="1.5"/>
<polygon points="327,266.79 330.51,270.3 327,273.81 323.49,270.3" fill="#f7891c"/>
<text x="340.9" y="273.05" font-size="7.88" text-anchor="start" font-weight="bold" fill="#111" >RYZ101(4 uCi) + Carboplatin/etoposide</text>
<line x1="420.6" y1="242.2" x2="434.6" y2="242.2" stroke="#e020e0" stroke-width="1.2"/>
<circle cx="427.6" cy="242.2" r="2.6" fill="#fff" stroke="#e020e0" stroke-width="1.4"/>
<text x="441.5" y="244.95" font-size="7.4" text-anchor="start" font-weight="bold" fill="#111" >Carboplatin/etoposide</text>
<line x1="420.6" y1="256.4" x2="434.6" y2="256.4" stroke="#f01010" stroke-width="1.2"/>
<rect x="425" y="253.8" width="5.2" height="5.2" fill="#f01010"/>
<text x="441.5" y="259.15" font-size="7.95" text-anchor="start" font-weight="bold" fill="#111" >RYZ101(4 uCi)</text>
<text x="342.7" y="287" font-size="7.6" font-weight="bold" fill="#111"><tspan font-style="italic">n</tspan> = 9</text>
</svg>
</body></html>
